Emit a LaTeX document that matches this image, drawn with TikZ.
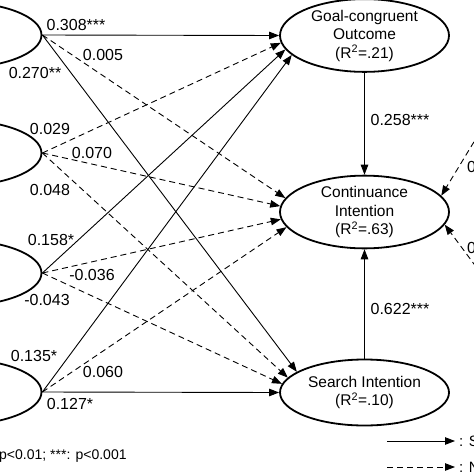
\documentclass[tikz,border=0pt]{standalone}
\usepackage{fontspec}
\setmainfont{Liberation Sans}
\usetikzlibrary{arrows.meta,shapes.geometric}
\begin{document}
\begin{tikzpicture}[x=1pt,y=-1pt,
  lat/.style={ellipse,draw,line width=1.8pt,minimum width=169pt,minimum height=66pt,inner sep=0pt,align=center,font=\fontsize{15.5}{18.5}\selectfont},
  sig/.style={line width=0.9pt,-{Triangle[length=10pt,width=7.5pt]}},
  ns/.style={sig,dash pattern=on 6pt off 4pt},
  lab/.style={font=\fontsize{16}{19}\selectfont,inner sep=0pt}]
\useasboundingbox (0,0) rectangle (474,474);
\clip (0,0) rectangle (474,474);
% latent variables
\node[lat] (l1) at (-43,35) {};
\node[lat] (l2) at (-43,153) {};
\node[lat] (l3) at (-43,273) {};
\node[lat] (l4) at (-43,392) {};
\node[lat] (goal) at (364.5,35.5) {Goal-congruent\\Outcome\\(R\textsuperscript{2}=.21)};
\node[lat] (cont) at (364.5,212) {Continuance\\Intention\\(R\textsuperscript{2}=.63)};
\node[lat] (search) at (364.5,392.5) {Search Intention\\(R\textsuperscript{2}=.10)};
% paths
\draw[sig] (l1.east) -- (goal.180);
\draw[ns]  (l1.east) -- (cont.170);
\draw[sig] (l1.east) -- (search.163);
\draw[ns]  (l2.east) -- (goal.185);
\draw[ns]  (l2.east) -- (cont.176);
\draw[ns]  (l2.east) -- (search.169);
\draw[sig] (l3.east) -- (goal.190);
\draw[ns]  (l3.east) -- (cont.185);
\draw[ns]  (l3.east) -- (search.174);
\draw[sig] (l4.east) -- (goal.195);
\draw[ns]  (l4.east) -- (cont.191);
\draw[sig] (l4.east) -- (search.180);
\draw[sig] (goal.south) -- (cont.north);
\draw[sig] (search.north) -- (cont.south);
\coordinate (r1) at (500,99);
\coordinate (r2) at (500,299);
\draw[ns] (r1) -- (cont.12);
\draw[ns] (r2) -- (cont.-9);
% labels
\node[lab] (t1) at (76,25) {0.308***};
\node[lab] (t2) at (103,55) {0.005};
\node[lab] (t3) at (35,73) {0.270**};
\node[lab] (t4) at (50,129) {0.029};
\node[lab] (t5) at (92,153) {0.070};
\node[lab] (t6) at (50,190) {0.048};
\node[lab] (t7) at (51,240) {0.158*};
\node[lab] (t8) at (92,275) {-0.036};
\node[lab] (t9) at (47,300) {-0.043};
\node[lab] (t10) at (34,356) {0.135*};
\node[lab] (t11) at (103,372) {0.060};
\node[lab] (t12) at (70,404) {0.127*};
\node[lab] (t13) at (400,120) {0.258***};
\node[lab] (t14) at (400,309) {0.622***};
\node[lab,anchor=west] (t15) at (467,167) {0};
\node[lab,anchor=west] (t16) at (467,248) {0};
% note
\node[font=\fontsize{14}{16}\selectfont,anchor=west,inner sep=0pt] (note) at (-1,456) {p<0.01; ***: p<0.001};
% legend
\coordinate (lga) at (387,441);
\coordinate (lgb) at (455,441);
\coordinate (lgc) at (387,467);
\coordinate (lgd) at (455,467);
\draw[sig] (lga) -- (lgb);
\draw[ns] (lgc) -- (lgd);
\node[lab,anchor=west,font=\fontsize{15}{18}\selectfont] (lg1) at (459,441) {: S};
\node[lab,anchor=west,font=\fontsize{15}{18}\selectfont] (lg2) at (459,467) {: N};
\end{tikzpicture}
\end{document}
